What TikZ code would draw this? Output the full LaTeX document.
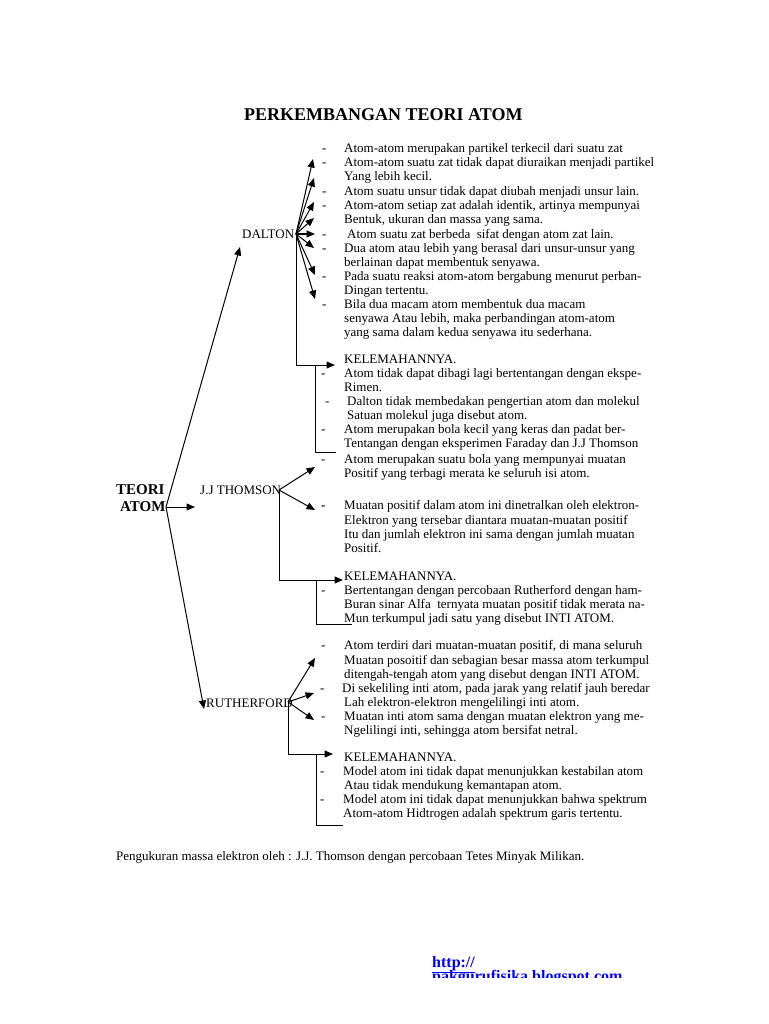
\documentclass[tikz,border=0pt]{standalone}
\usepackage{fontspec}
\setmainfont{Liberation Serif}
\usetikzlibrary{arrows.meta}
\definecolor{linkblue}{RGB}{0,0,255}
\begin{document}
\begin{tikzpicture}[x=1pt,y=-1pt,
 txt/.style={font=\fontsize{13}{15}\selectfont, anchor=base west, inner sep=0pt},
 bigb/.style={font=\fontsize{15}{17}\selectfont\bfseries, anchor=base west, inner sep=0pt},
 ln/.style={line width=1pt, black},
 arr/.style={ln, -{Triangle[length=8.5pt,width=7pt]}}]
\useasboundingbox (0,0) rectangle (768,1024);
\fill[white] (0,0) rectangle (768,1024);

% title
\node[font=\fontsize{18}{20}\selectfont\bfseries, anchor=base west, inner sep=0pt] (title) at (244,121) {PERKEMBANGAN TEORI ATOM};

% root
\node[bigb] (teori) at (116,494) {TEORI};
\node[bigb] (atom) at (120,511) {ATOM};
\coordinate (root) at (166,507);

% branch labels
\node[txt] (dalton) at (242,239) {DALTON};
\node[txt] (thomson) at (200,494) {J.J THOMSON};
\node[txt] (ruth) at (206,707) {RUTHERFORD};

% root connectors
\coordinate (tD) at (240,247);
\coordinate (tT) at (195,507);
\coordinate (tR) at (204,709);
\draw[arr] (root) -- (tD);
\draw[arr] (root) -- (tT);
\draw[arr] (root) -- (tR);

% ---------- DALTON ----------
\coordinate (dO) at (296,234);
\foreach \n/\px/\py in {1/313/159, 2/314/178, 3/314/202, 4/314/218, 5/315/234, 6/314/248, 7/315/275, 8/315/299}{
  \coordinate (dT\n) at (\px,\py);
  \draw[arr] (dO) -- (dT\n);
}
\coordinate (dC) at (296,365);
\coordinate (dK) at (335,365);
\draw[arr] (dO) -- (dC) -- (dK);
\coordinate (dB1) at (315,365);
\coordinate (dB2) at (315,452);
\coordinate (dB3) at (336,452);
\draw[ln] (dB1) -- (dB2) -- (dB3);

\node[txt] (dd1) at (322,153) {-};
\node[txt] (dd2) at (322,167) {-};
\node[txt] (dd3) at (322,196) {-};
\node[txt] (dd4) at (322,210) {-};
\node[txt] (dd5) at (322,238) {-};
\node[txt] (dd6) at (322,252) {-};
\node[txt] (dd7) at (322,280) {-};
\node[txt] (dd8) at (322,308) {-};
\node[txt] (d1) at (344,153) {Atom-atom merupakan partikel terkecil dari suatu zat};
\node[txt] (d2) at (344,167) {Atom-atom suatu zat tidak dapat diuraikan menjadi partikel};
\node[txt] (d3) at (344,181) {Yang lebih kecil.};
\node[txt] (d4) at (344,196) {Atom suatu unsur tidak dapat diubah menjadi unsur lain.};
\node[txt] (d5) at (344,210) {Atom-atom setiap zat adalah identik, artinya mempunyai};
\node[txt] (d6) at (344,224) {Bentuk, ukuran dan massa yang sama.};
\node[txt] (d7) at (347,238) {Atom suatu zat berbeda\ \ sifat dengan atom zat lain.};
\node[txt] (d8) at (344,252) {Dua atom atau lebih yang berasal dari unsur-unsur yang};
\node[txt] (d9) at (344,266) {berlainan dapat membentuk senyawa.};
\node[txt] (d10) at (344,280) {Pada suatu reaksi atom-atom bergabung menurut perban-};
\node[txt] (d11) at (344,294) {Dingan tertentu.};
\node[txt] (d12) at (344,308) {Bila dua macam atom membentuk dua macam};
\node[txt] (d13) at (344,322) {senyawa Atau lebih, maka perbandingan atom-atom};
\node[txt] (d14) at (344,336) {yang sama dalam kedua senyawa itu sederhana.};

\node[txt] (dkel) at (344,363) {KELEMAHANNYA.};
\node[txt] (dkd1) at (321,377) {-};
\node[txt] (dkd2) at (325,405) {-};
\node[txt] (dkd3) at (321,433) {-};
\node[txt] (dk1) at (344,377) {Atom tidak dapat dibagi lagi bertentangan dengan ekspe-};
\node[txt] (dk2) at (344,391) {Rimen.};
\node[txt] (dk3) at (347,405) {Dalton tidak membedakan pengertian atom dan molekul};
\node[txt] (dk4) at (347,419) {Satuan molekul juga disebut atom.};
\node[txt] (dk5) at (344,433) {Atom merupakan bola kecil yang keras dan padat ber-};
\node[txt] (dk6) at (344,447) {Tentangan dengan eksperimen Faraday dan J.J Thomson};

% ---------- THOMSON ----------
\coordinate (tO) at (279,490);
\coordinate (tT1) at (315,467);
\coordinate (tT2) at (315,510);
\draw[arr] (tO) -- (tT1);
\draw[arr] (tO) -- (tT2);
\coordinate (tC) at (279,580);
\coordinate (tK) at (343,580);
\draw[arr] (tO) -- (tC) -- (tK);
\coordinate (tB1) at (316,580);
\coordinate (tB2) at (316,624);
\coordinate (tB3) at (352,624);
\draw[ln] (tB1) -- (tB2) -- (tB3);

\node[txt] (td1) at (321,463) {-};
\node[txt,font=\fontsize{13}{15}\selectfont\bfseries] (td2) at (321,509) {-};
\node[txt] (t1) at (344,463) {Atom merupakan suatu bola yang mempunyai muatan};
\node[txt] (t2) at (344,477) {Positif yang terbagi merata ke seluruh isi atom.};
\node[txt] (t3) at (344,509) {Muatan positif dalam atom ini dinetralkan oleh elektron-};
\node[txt] (t4) at (344,524) {Elektron yang tersebar diantara muatan-muatan positif};
\node[txt] (t5) at (344,538) {Itu dan jumlah elektron ini sama dengan jumlah muatan};
\node[txt] (t6) at (344,552) {Positif.};
\node[txt] (tkel) at (344,580) {KELEMAHANNYA.};
\node[txt] (tkd1) at (321,594) {-};
\node[txt] (tk1) at (344,594) {Bertentangan dengan percobaan Rutherford dengan ham-};
\node[txt] (tk2) at (344,608) {Buran sinar Alfa\ \ ternyata muatan positif tidak merata na-};
\node[txt] (tk3) at (344,622) {Mun terkumpul jadi satu yang disebut INTI ATOM.};

% ---------- RUTHERFORD ----------
\coordinate (rO) at (288,702);
\coordinate (rT1) at (315,658);
\coordinate (rT2) at (314,693);
\coordinate (rT3) at (314,720);
\draw[arr] (rO) -- (rT1);
\draw[arr] (rO) -- (rT2);
\draw[arr] (rO) -- (rT3);
\coordinate (rC) at (288,754);
\coordinate (rK) at (333,754);
\draw[arr] (rO) -- (rC) -- (rK);
\coordinate (rB1) at (316,754);
\coordinate (rB2) at (316,825);
\coordinate (rB3) at (343,825);
\draw[ln] (rB1) -- (rB2) -- (rB3);

\node[txt] (rd1) at (321,649) {-};
\node[txt] (rd2) at (320,692) {-};
\node[txt] (rd3) at (321,720) {-};
\node[txt] (r1) at (344,649) {Atom terdiri dari muatan-muatan positif, di mana seluruh};
\node[txt] (r2) at (344,664) {Muatan posoitif dan sebagian besar massa atom terkumpul};
\node[txt] (r3) at (344,678) {ditengah-tengah atom yang disebut dengan INTI ATOM.};
\node[txt] (r4) at (342,692) {Di sekeliling inti atom, pada jarak yang relatif jauh beredar};
\node[txt] (r5) at (344,706) {Lah elektron-elektron mengelilingi inti atom.};
\node[txt] (r6) at (344,720) {Muatan inti atom sama dengan muatan elektron yang me-};
\node[txt] (r7) at (344,734) {Ngelilingi inti, sehingga atom bersifat netral.};
\node[txt] (rkel) at (344,761) {KELEMAHANNYA.};
\node[txt] (rkd1) at (320,775) {-};
\node[txt] (rkd2) at (320,803) {-};
\node[txt] (rk1) at (343,775) {Model atom ini tidak dapat menunjukkan kestabilan atom};
\node[txt] (rk2) at (344,789) {Atau tidak mendukung kemantapan atom.};
\node[txt] (rk3) at (343,803) {Model atom ini tidak dapat menunjukkan bahwa spektrum};
\node[txt] (rk4) at (343,817) {Atom-atom Hidtrogen adalah spektrum garis tertentu.};

% bottom note
\node[txt] (note) at (116,860) {Pengukuran massa elektron oleh : J.J. Thomson dengan percobaan Tetes Minyak Milikan.};

% link (clipped)
\begin{scope}
\clip (0,0) rectangle (768,977);
\node[font=\fontsize{16}{18}\selectfont\bfseries, text=linkblue, anchor=base west, inner sep=0pt] (link1) at (432,967) {\underline{http://}};
\node[font=\fontsize{16}{18}\selectfont\bfseries, text=linkblue, anchor=base west, inner sep=0pt] (link2) at (432,981) {\underline{pakgurufisika.blogspot.com}};
\end{scope}
\end{tikzpicture}
\end{document}
